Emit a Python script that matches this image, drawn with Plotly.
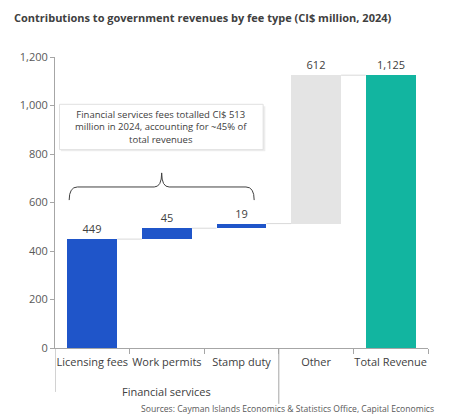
import plotly.graph_objects as go

## chart data ##
categories = ["Licensing fees", "Work permits", "Stamp duty", "Other", "Total Revenue"]
values = [449, 45, 19, 612, 1125]
labels = ["449", "45", "19", "612", "1,125"]
colors = ["#1f55c9", "#1f55c9", "#1f55c9", "#e4e4e4", "#12b5a0"]
group_label = "Financial services"
note = "Financial services fees totalled CI$ 513<br>million in 2024, accounting for ~45% of<br>total revenues"
source = "Sources: Cayman Islands Economics & Statistics Office, Capital Economics"
title = "Contributions to government revenues by fee type (CI$ million, 2024)"

FONT = "Open Sans"
GREY = "#595959"
bar_w = 0.67

# bases for the floating bars, the last one is the total
bases = []
running = 0
for i, v in enumerate(values):
    if i == len(values) - 1:
        bases.append(0)
    else:
        bases.append(running)
        running += v
tops = [b + v for b, v in zip(bases, values)]
xs = list(range(len(categories)))

fig = go.Figure()

# connector lines between bars
for i in range(len(values) - 1):
    fig.add_trace(go.Scatter(
        x=[xs[i] + bar_w / 2, xs[i + 1] - bar_w / 2], y=[tops[i], tops[i]],
        mode="lines", line=dict(color="#d9d9d9", width=1),
        hoverinfo="skip", showlegend=False))

fig.add_trace(go.Bar(
    x=xs, y=values, base=bases, width=bar_w,
    marker=dict(color=colors, line=dict(width=0)),
    text=labels, textposition="outside", cliponaxis=False,
    textfont=dict(family=FONT, size=11, color="#404040"),
    showlegend=False))

shapes = []
# curly brace over the financial services bars
shapes.append(dict(
    type="path", xref="x", yref="y",
    path="M -0.31,610 Q -0.31,664 -0.2,664 L 0.83,664 Q 0.93,664 0.93,722 "
         "Q 0.93,664 1.03,664 L 2.06,664 Q 2.17,664 2.17,610",
    line=dict(color="#404040", width=1)))
# group separator and extended left axis below the category labels
shapes.append(dict(type="line", xref="x", yref="paper", x0=2.5, x1=2.5, y0=0, y1=-0.192,
                   line=dict(color="#a6a6a6", width=1)))
shapes.append(dict(type="line", xref="x", yref="paper", x0=-0.5, x1=-0.5, y0=0, y1=-0.151,
                   line=dict(color="#a6a6a6", width=1)))
# note box with a soft shadow
shapes.append(dict(type="rect", xref="x", yref="y", x0=-0.42, x1=2.32, y0=811, y1=997,
                   fillcolor="rgba(0,0,0,0.07)", line=dict(width=0), layer="above"))
shapes.append(dict(type="rect", xref="x", yref="y", x0=-0.44, x1=2.29, y0=818, y1=1005,
                   fillcolor="white", line=dict(color="#e0e0e0", width=1), layer="above"))

annotations = [
    dict(text=note, x=0.92, y=912, xref="x", yref="y", showarrow=False,
         font=dict(family=FONT, size=9.5, color="#404040"), align="center"),
    dict(text=group_label, x=1.0, y=-0.148, xref="x", yref="paper", showarrow=False,
         yanchor="middle", font=dict(family=FONT, size=11, color="#404040")),
    dict(text=source, x=1.021, y=-0.21, xref="paper", yref="paper", showarrow=False,
         xanchor="right", yanchor="middle",
         font=dict(family=FONT, size=8.6, color=GREY)),
    dict(text="<b>" + title + "</b>", x=-0.114, y=1.137, xref="paper", yref="paper",
         showarrow=False, xanchor="left", yanchor="middle",
         font=dict(family=FONT, size=11, color="#404040")),
]

# page body adds an 8px margin, so the figure is drawn 8px smaller
fig.update_layout(
    width=445, height=412,
    margin=dict(l=43, r=25, t=49, b=72),
    paper_bgcolor="white", plot_bgcolor="white",
    font=dict(family=FONT, color=GREY),
    shapes=shapes, annotations=annotations,
    bargap=0,
)
fig.update_xaxes(
    range=[-0.5, 4.5], tickvals=xs, ticktext=categories, ticks="",
    ticklabelstandoff=4,
    tickfont=dict(family=FONT, size=11, color="#404040"),
    showline=True, linecolor="#a6a6a6", linewidth=1, showgrid=False, zeroline=False,
    minor=dict(tickvals=[0.5, 1.5, 2.5, 3.5, 4.5], ticks="outside", ticklen=5,
               tickcolor="#a6a6a6", showgrid=False),
)
fig.update_yaxes(
    range=[0, 1200], dtick=200, tickformat=",", ticks="outside", ticklen=4,
    tickcolor="#a6a6a6", tickfont=dict(family=FONT, size=11, color=GREY),
    showline=True, linecolor="#a6a6a6", linewidth=1, showgrid=False, zeroline=False,
)

fig.write_html("out.html")
